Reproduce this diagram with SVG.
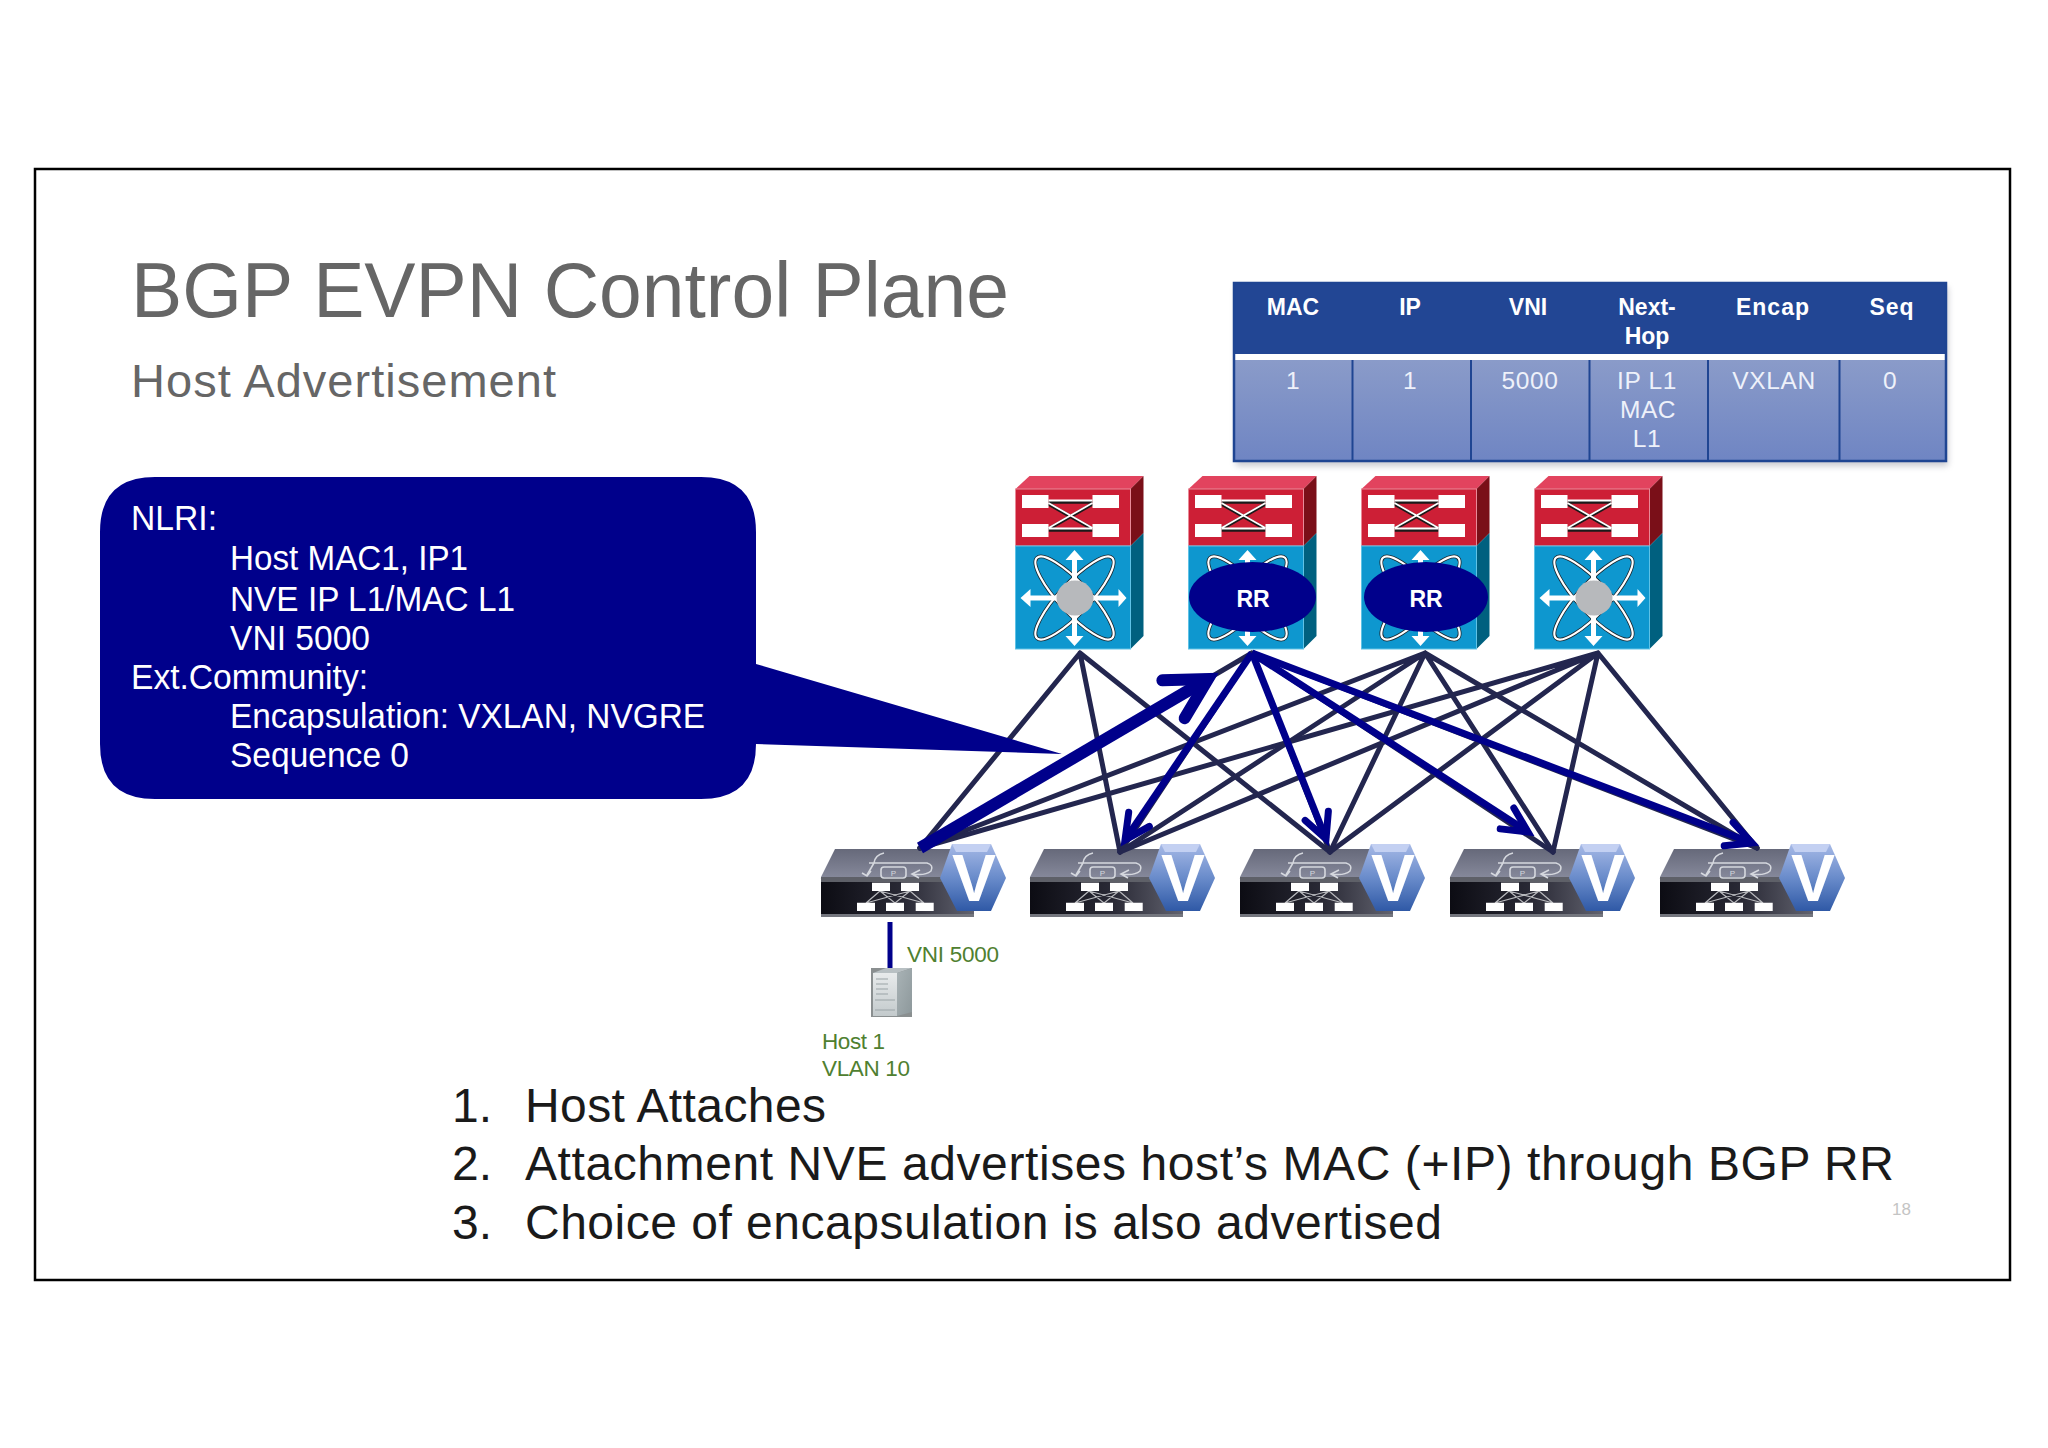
<svg xmlns="http://www.w3.org/2000/svg" xmlns:xlink="http://www.w3.org/1999/xlink" width="2048" height="1448" viewBox="0 0 2048 1448">
<style>
text{font-family:"Liberation Sans",Arial,sans-serif}
.mesh{stroke:#23264f;stroke-width:5;fill:none;stroke-linecap:round}
.adv{stroke:#00008b;stroke-width:7;fill:none;marker-end:url(#openThin)}
.advT{stroke:#00008b;stroke-width:12;fill:none;marker-end:url(#openThick)}
.title{font-size:78px;fill:#666}
.sub{font-size:47px;fill:#666}
.nlri{font-size:35px;fill:#fff}
.th{font-size:23px;font-weight:bold;fill:#fff;text-anchor:middle}
.td{font-size:24.5px;fill:#eef1fa;text-anchor:middle;letter-spacing:.6px}
.grn{font-size:22.5px;fill:#4f8030}
.step{font-size:48px;fill:#1a1a1a}
.rr{font-size:23px;font-weight:bold;fill:#fff;text-anchor:middle}
.v{font-size:66px;font-weight:bold;fill:#fff;text-anchor:middle}
.g{fill:none;stroke:#d5d8de;stroke-width:1.6}
</style>
<defs>
<marker id="openThin" markerUnits="userSpaceOnUse" markerWidth="70" markerHeight="70" refX="35" refY="35" orient="auto" viewBox="0 0 70 70"><path d="M10,22.5 L35,35 L10,47.5" fill="none" stroke="#00008b" stroke-width="7" stroke-linecap="round" stroke-linejoin="miter"/></marker>
<marker id="openThick" markerUnits="userSpaceOnUse" markerWidth="120" markerHeight="120" refX="60" refY="60" orient="auto" viewBox="0 0 120 120"><path d="M20,38 L60,60 L20,82" fill="none" stroke="#00008b" stroke-width="12" stroke-linecap="round" stroke-linejoin="miter"/></marker>
<linearGradient id="rowG" x1="0" y1="0" x2="0" y2="1"><stop offset="0" stop-color="#8a9bc9"/><stop offset="1" stop-color="#6f85c3"/></linearGradient>
<linearGradient id="leafTop" x1="0" y1="0" x2="0" y2="1"><stop offset="0" stop-color="#66697a"/><stop offset="1" stop-color="#85889a"/></linearGradient>
<linearGradient id="leafFront" x1="0" y1="0" x2="1" y2="0"><stop offset="0" stop-color="#0c0c13"/><stop offset="0.55" stop-color="#2a2a36"/><stop offset="1" stop-color="#62636f"/></linearGradient>
<linearGradient id="hex" x1="0" y1="0" x2="0" y2="1"><stop offset="0" stop-color="#a6b9e6"/><stop offset="0.5" stop-color="#6a8ccb"/><stop offset="1" stop-color="#2f59a6"/></linearGradient>
<linearGradient id="srvF" x1="0" y1="0" x2="0" y2="1"><stop offset="0" stop-color="#e8ebec"/><stop offset="1" stop-color="#c3cacc"/></linearGradient>
<linearGradient id="srvS" x1="0" y1="0" x2="1" y2="1"><stop offset="0" stop-color="#a9b3b6"/><stop offset="1" stop-color="#8d989b"/></linearGradient>
<filter id="soft" x="-5%" y="-5%" width="110%" height="115%"><feGaussianBlur stdDeviation="3"/></filter>
<g id="spineIcon">
<polygon points="0,13 14,0 128,0 115,13" fill="#e2435e"/>
<polygon points="115,13 128,0 128,57 115,70" fill="#7a0f18"/>
<polygon points="115,70 128,57 128,160 115,173" fill="#00607f"/>
<rect x="0" y="13" width="115" height="57" fill="#cd1f36" stroke="#e88a98" stroke-width="1"/>
<rect x="0" y="70" width="115" height="103" fill="#0e97cf" stroke="#5fc2e6" stroke-width="1"/>
<path d="M33,26H77M33,54H77M33,28L77,53M33,53L77,28" stroke="#1a1a1a" stroke-width="3.4" fill="none"/>
<path d="M33,24.5H77M33,52.5H77M33,27L77,52M33,52L77,27" stroke="#fff" stroke-width="1.8" fill="none"/>
<rect x="6.5" y="19" width="26.5" height="13" fill="#fff"/>
<rect x="77" y="19" width="26.5" height="13" fill="#fff"/>
<rect x="6.5" y="48" width="26.5" height="13" fill="#fff"/>
<rect x="77" y="48" width="26.5" height="13" fill="#fff"/>
<g fill="none">
<ellipse cx="59" cy="122" rx="55" ry="15" transform="rotate(47 59 122)" stroke="#1a2730" stroke-width="3.8"/>
<ellipse cx="59" cy="122" rx="55" ry="15" transform="rotate(-47 59 122)" stroke="#1a2730" stroke-width="3.8"/>
<ellipse cx="59" cy="122" rx="55" ry="15" transform="rotate(47 59 122)" stroke="#fff" stroke-width="2.2"/>
<ellipse cx="59" cy="122" rx="55" ry="15" transform="rotate(-47 59 122)" stroke="#fff" stroke-width="2.2"/>
</g>
<path d="M59,74 L68,84 L61.500,84 L61.500,160 L68,160 L59,170 L50,160 L56.500,160 L56.500,84 L50,84 Z M5,122 L15,113 L15,119.500 L103,119.500 L103,113 L111,122 L103,131 L103,124.500 L15,124.500 L15,131 Z" fill="#fff"/>
<ellipse cx="59.500" cy="122" rx="18.500" ry="17.500" fill="#b7b9bc"/>
</g>
<g id="leafIcon">
<polygon points="14,0 136,0 153,28 0,28" fill="url(#leafTop)"/>
<rect x="0" y="28" width="153" height="40" rx="1.5" fill="url(#leafFront)"/>
<rect x="0" y="28" width="153" height="5" fill="#5e6068"/>
<rect x="0" y="65" width="153" height="3" fill="#74767e"/>
<path class="g" d="M63,4 Q54,6 53,14 L46,26M41,24 L46,27 L50,22M48,14 H106 Q113,16 110,22 Q104,27 92,25M99,21 L91,25 L98,29"/>
<rect x="60" y="18" width="25" height="11" rx="3" class="g"/>
<text x="72.500" y="27" font-size="8" fill="#d5d8de" text-anchor="middle">P</text>
<path d="M59,42 L45,54M59,42 L74,54M59,42 L103,54M89,42 L45,54M89,42 L74,54M89,42 L103,54" stroke="#b8b9bd" stroke-width="1.2" fill="none"/>
<path d="M51,33.700h18v8.300h-18zM80,33.700h18v8.300h-18zM36,53.700h18v8.300h-18zM65,53.700h18v8.300h-18zM94.700,53.700h18v8.300h-18z" fill="#fff"/>
<polygon points="131,-5 170,-5 185,29 170,62 136,62 119,29" fill="url(#hex)"/>
<polygon points="131,-5 170,-5 166,3 135,3" fill="#c3d0f2"/>
</g>
</defs>
<rect width="2048" height="1448" fill="#fff"/>
<rect id="frame" x="35" y="169" width="1975" height="1111" fill="#fff" stroke="#000" stroke-width="2.500"/>
<text class="title" x="131" y="317" textLength="878" lengthAdjust="spacingAndGlyphs">BGP EVPN Control Plane</text>
<text class="sub" x="131" y="397" textLength="425" lengthAdjust="spacing">Host Advertisement</text>

<g id="table">
<rect x="1234" y="284" width="712" height="179" fill="#667" opacity="0.35" filter="url(#soft)" transform="translate(2 3)"/>
<rect x="1234" y="283" width="712" height="71" fill="#224694"/>
<rect x="1234" y="354" width="712" height="6" fill="#fff"/>
<rect x="1234" y="360" width="712" height="101" fill="url(#rowG)"/>
<path d="M1352.500,360V461M1471,360V461M1589.500,360V461M1708,360V461M1839.500,360V461" stroke="#1f4592" stroke-width="2" fill="none"/>
<rect x="1234" y="283" width="712" height="178" fill="none" stroke="#1f4592" stroke-width="2.500"/>
<text class="th" x="1296" y="315" dx="-3">MAC</text>
<text class="th" x="1413" y="315" dx="-3">IP</text>
<text class="th" x="1532" y="315" dx="-4">VNI</text>
<text class="th" x="1652" y="315" dx="-5">Next-</text>
<text class="th" x="1652" y="344" dx="-5">Hop</text>
<text class="th" x="1777" y="315" dx="-4" letter-spacing="1">Encap</text>
<text class="th" x="1896" y="315" dx="-4" letter-spacing="1">Seq</text>
<text class="td" x="1293" y="389">1</text>
<text class="td" x="1413" y="389" dx="-3">1</text>
<text class="td" x="1530" y="389">5000</text>
<text class="td" x="1647" y="389" letter-spacing="-.6">IP L1</text>
<text class="td" x="1648" y="418">MAC</text>
<text class="td" x="1647" y="447">L1</text>
<text class="td" x="1774" y="389">VXLAN</text>
<text class="td" x="1890" y="389">0</text>
</g>

<g id="spine1"><use xlink:href="#spineIcon" href="#spineIcon" transform="translate(1015.500 476)"/></g>
<g id="spine2"><use xlink:href="#spineIcon" href="#spineIcon" transform="translate(1188.500 476)"/><ellipse cx="1252.500" cy="597" rx="63.500" ry="35" fill="#00008b"/><text class="rr" x="1253" y="607">RR</text></g>
<g id="spine3"><use xlink:href="#spineIcon" href="#spineIcon" transform="translate(1361.500 476)"/><ellipse cx="1426" cy="597" rx="62" ry="35" fill="#00008b"/><text class="rr" x="1426" y="607">RR</text></g>
<g id="spine4"><use xlink:href="#spineIcon" href="#spineIcon" transform="translate(1534.500 476)"/></g>

<g id="leaf1"><use xlink:href="#leafIcon" href="#leafIcon" transform="translate(821 849)"/><text class="v" x="974" y="901">V</text></g>
<g id="leaf2"><use xlink:href="#leafIcon" href="#leafIcon" transform="translate(1030 849)"/><text class="v" x="1183" y="901">V</text></g>
<g id="leaf3"><use xlink:href="#leafIcon" href="#leafIcon" transform="translate(1240 849)"/><text class="v" x="1393" y="901">V</text></g>
<g id="leaf4"><use xlink:href="#leafIcon" href="#leafIcon" transform="translate(1450 849)"/><text class="v" x="1603" y="901">V</text></g>
<g id="leaf5"><use xlink:href="#leafIcon" href="#leafIcon" transform="translate(1660 849)"/><text class="v" x="1813" y="901">V</text></g>

<g id="connectors-mesh">
<path class="mesh" d="M1080,653L920,848M1080,653L1120,852M1080,653L1330,852"/>
<path class="mesh" d="M1252,653L920,848M1252,653L1120,852M1252,653L1330,852M1252,653L1553,852M1252,653L1757,848"/>
<path class="mesh" d="M1425,653L920,848M1425,653L1120,852M1425,653L1330,852M1425,653L1553,852M1425,653L1757,848"/>
<path class="mesh" d="M1598,653L920,848M1598,653L1120,852M1598,653L1330,852M1598,653L1553,852M1598,653L1757,848"/>
</g>

<g id="callout">
<path d="M155,477H701Q756,477 756,532V664L1062,754L756,744V744Q756,799 701,799H155Q100,799 100,744V532Q100,477 155,477Z" fill="#00008b"/>
<text class="nlri" x="131" y="530" textLength="86" lengthAdjust="spacingAndGlyphs">NLRI:</text>
<text class="nlri" x="230" y="570" textLength="238" lengthAdjust="spacingAndGlyphs">Host MAC1, IP1</text>
<text class="nlri" x="230" y="611" textLength="285" lengthAdjust="spacingAndGlyphs">NVE IP L1/MAC L1</text>
<text class="nlri" x="230" y="650" textLength="140" lengthAdjust="spacingAndGlyphs">VNI 5000</text>
<text class="nlri" x="131" y="689" textLength="237" lengthAdjust="spacingAndGlyphs">Ext.Community:</text>
<text class="nlri" x="230" y="728" textLength="475" lengthAdjust="spacingAndGlyphs">Encapsulation: VXLAN, NVGRE</text>
<text class="nlri" x="230" y="767" textLength="179" lengthAdjust="spacingAndGlyphs">Sequence 0</text>
</g>

<g id="connectors-advert">
<path class="advT" d="M920,848L1208,679"/>
<path class="adv" d="M1252,653L1125,840"/>
<path class="adv" d="M1252,653L1326,839"/>
<path class="adv" d="M1252,653L1528,832"/>
<path class="adv" d="M1252,653L1752,843"/>
<path d="M890,922V970" stroke="#00008b" stroke-width="5" fill="none"/>
</g>

<g id="host">
<rect x="871" y="968" width="41" height="49" fill="#8a8f90"/>
<polygon points="873,973 886,968 912,968 897,973" fill="#b8c0c3"/>
<polygon points="897,973 912,968 912,1012 897,1016" fill="url(#srvS)"/>
<rect x="873" y="973" width="24" height="43" fill="url(#srvF)"/>
<path d="M876,979H888M876,984H888M876,989H888M876,994H888M875,1000H895M875,1010H895" stroke="#9aa3a6" stroke-width="1" fill="none"/>
<text class="grn" x="907" y="962" textLength="92" lengthAdjust="spacing">VNI 5000</text>
<text class="grn" x="822" y="1049" textLength="63" lengthAdjust="spacing">Host 1</text>
<text class="grn" x="822" y="1076" textLength="88" lengthAdjust="spacing">VLAN 10</text>
</g>

<g id="steps">
<text class="step" x="452" y="1122">1.</text><text class="step" x="525" y="1122" textLength="301" lengthAdjust="spacing">Host Attaches</text>
<text class="step" x="452" y="1180">2.</text><text class="step" x="525" y="1180" textLength="1369" lengthAdjust="spacing">Attachment NVE advertises host’s MAC (+IP) through BGP RR</text>
<text class="step" x="452" y="1239">3.</text><text class="step" x="525" y="1239" textLength="917" lengthAdjust="spacing">Choice of encapsulation is also advertised</text>
</g>
<text x="1892" y="1215" font-size="17" fill="#c4c4c4">18</text>
</svg>
